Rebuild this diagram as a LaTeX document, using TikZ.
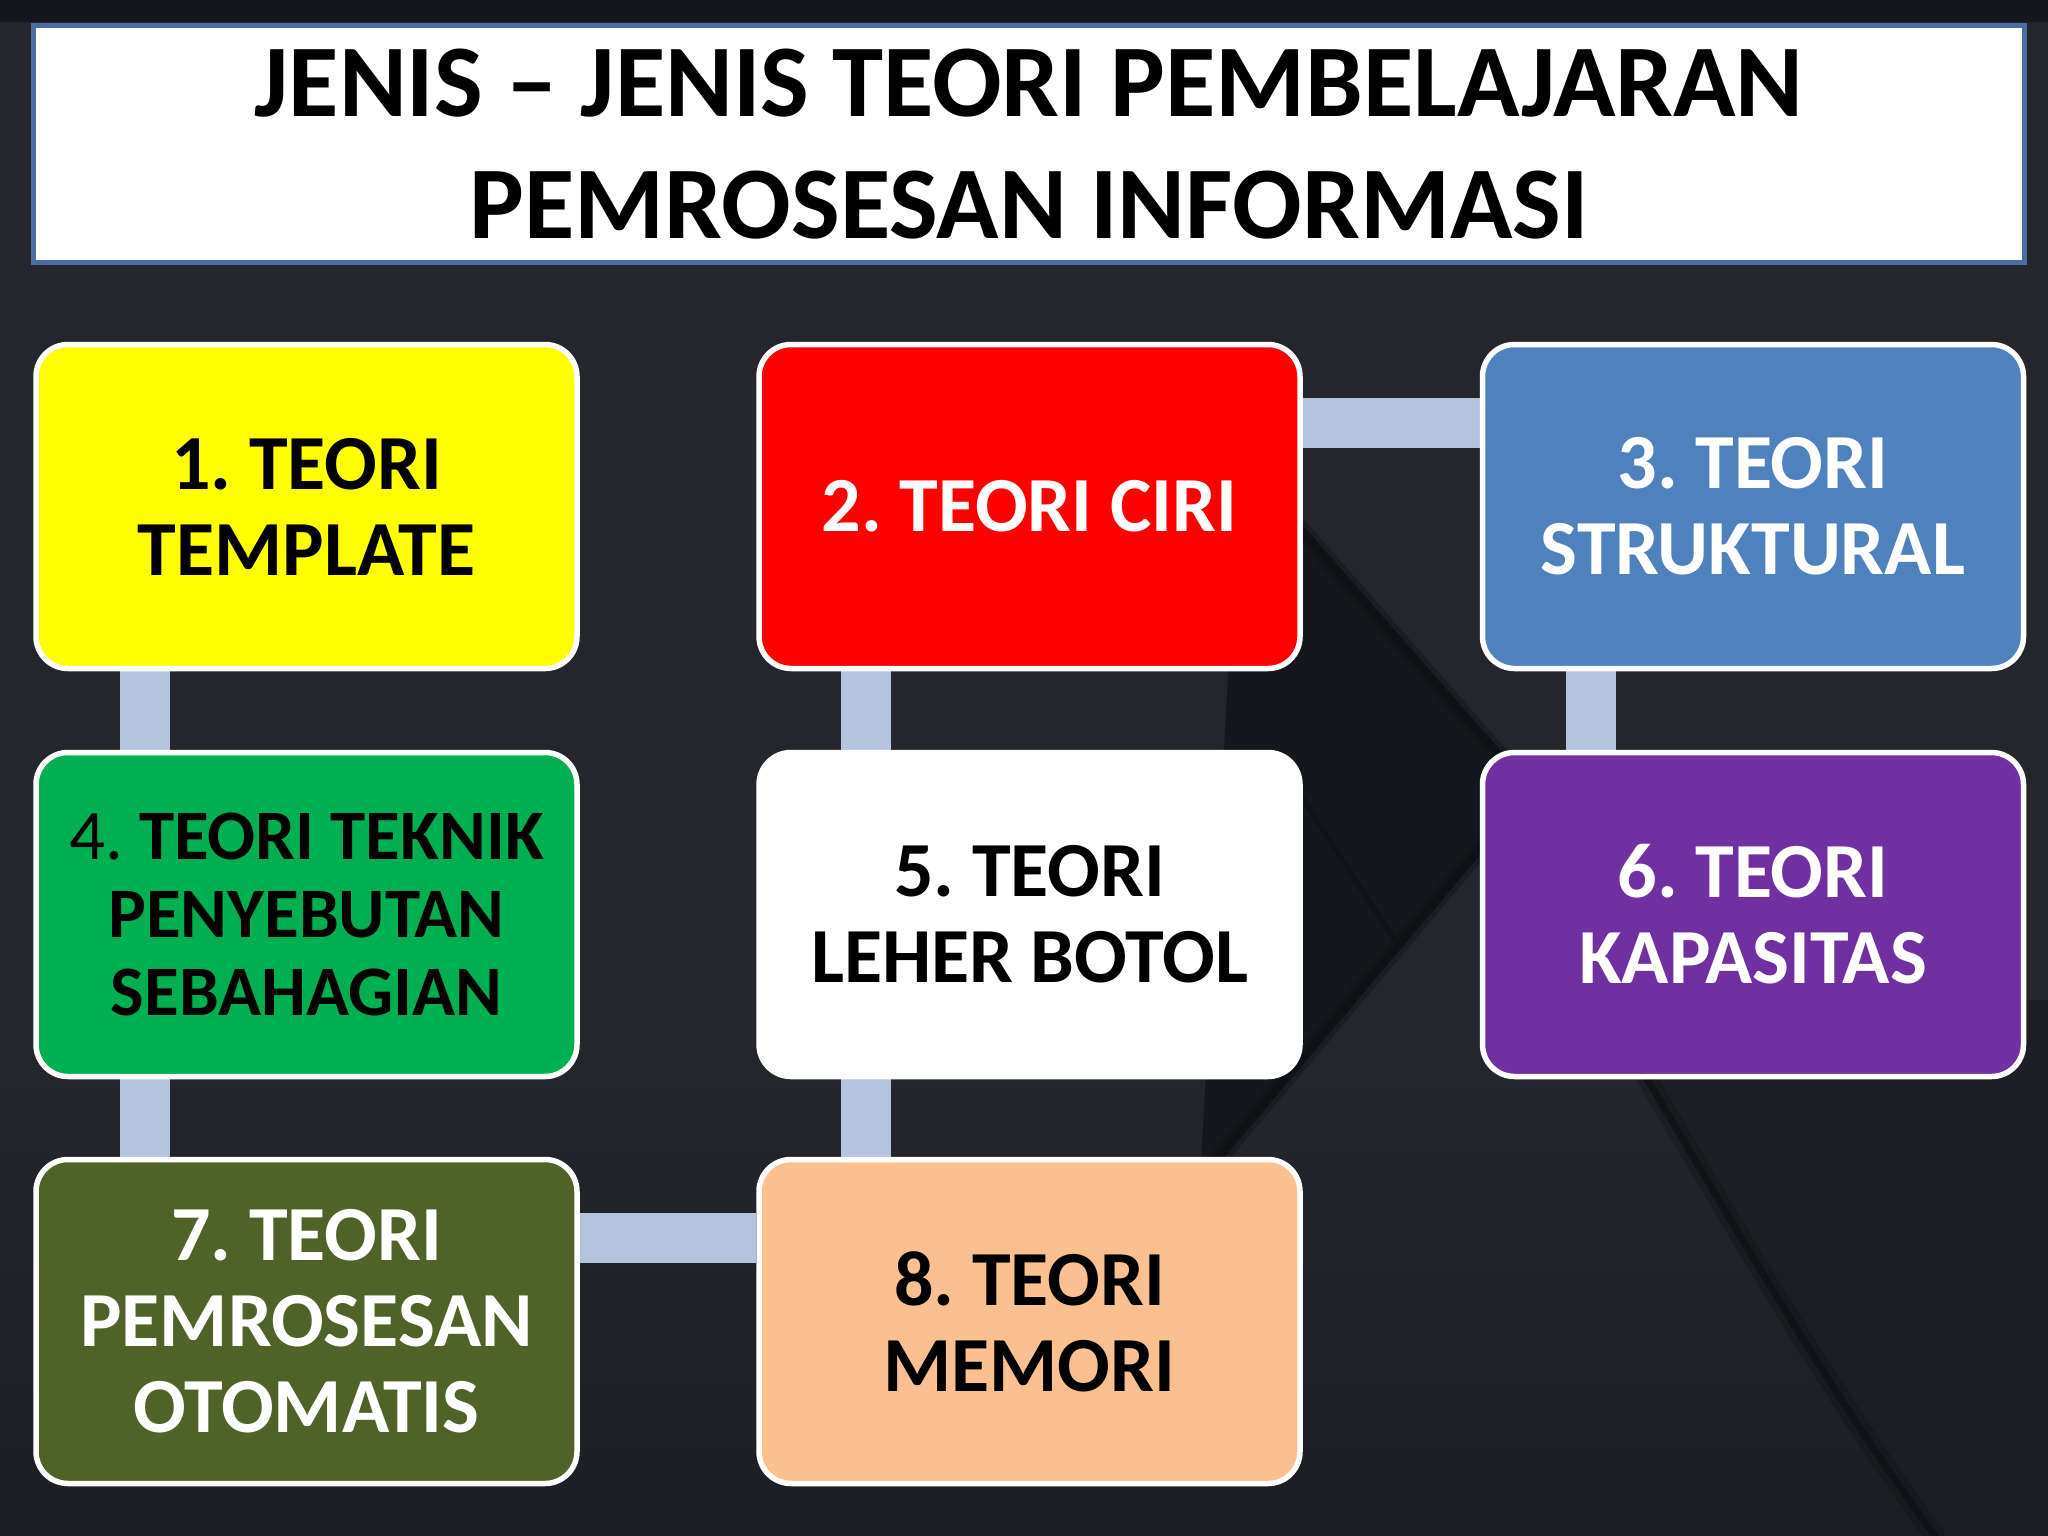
\documentclass[tikz,border=0pt]{standalone}
\usepackage{fontspec}
\setmainfont{Carlito}
\frenchspacing
\definecolor{bgbase}{RGB}{36,38,44}
\definecolor{bglow}{RGB}{28,30,35}
\definecolor{bgdark}{RGB}{22,23,28}
\definecolor{bgline}{RGB}{14,15,19}
\definecolor{titleb}{RGB}{74,108,158}
\definecolor{connc}{RGB}{180,195,222}
\definecolor{yel}{RGB}{255,255,0}
\definecolor{redb}{RGB}{255,0,0}
\definecolor{blub}{RGB}{79,129,189}
\definecolor{grnb}{RGB}{0,176,80}
\definecolor{purb}{RGB}{112,48,160}
\definecolor{olib}{RGB}{79,98,40}
\definecolor{peab}{RGB}{250,192,144}
\pgfdeclarelayer{bglayer}
\pgfdeclarelayer{connlayer}
\pgfsetlayers{bglayer,connlayer,main}
\begin{document}
\begin{tikzpicture}[x=1pt,y=-1pt,
  box/.style={draw=white, line width=5.5pt, rounded corners=32pt,
    minimum width=541pt, minimum height=324pt, align=center, inner sep=0pt,
    font=\fontsize{78}{86}\selectfont\bfseries},
  conn/.style={draw=connc, line width=50pt},
  titlebox/.style={draw=titleb, line width=5pt, fill=white,
    minimum width=1991pt, minimum height=237pt, inner sep=0pt, align=center,
    font=\fontsize{103}{122}\selectfont\bfseries},
  softline/.style={draw=bgline, line cap=round}]
\useasboundingbox (0,0) rectangle (2048,1536);
% background
\begin{pgfonlayer}{bglayer}
\fill[bgbase] (0,0) rectangle (2048,1536);
\shade[top color=bgbase, bottom color=bglow] (0,1060) rectangle (2048,1536);
\fill[bgdark] (0,0) rectangle (2048,22);
% dark wedge between the middle and right columns
\fill[bgdark] (1240,460) -- (1530,790) -- (1200,1180) -- cycle;
\draw[softline, line width=18pt, opacity=0.35] (1240,460) -- (1530,790) -- (1200,1180);
\draw[softline, line width=8pt, opacity=0.8] (1240,460) -- (1530,790) -- (1200,1180);
\draw[softline, line width=6pt, opacity=0.5] (1290,780) -- (1395,940);
% dark diagonal crease lower right
\fill[bglow, opacity=0.8] (1600,1000) .. controls (1720,1200) and (1820,1380) .. (1935,1536) -- (2048,1536) -- (2048,1000) -- cycle;
\draw[softline, line width=20pt, opacity=0.3] (1600,1000) .. controls (1720,1200) and (1820,1380) .. (1935,1536);
\draw[softline, line width=7pt, opacity=0.7] (1600,1000) .. controls (1720,1200) and (1820,1380) .. (1935,1536);
\end{pgfonlayer}
% title
\node[titlebox] (title) at (1029,144) {JENIS – JENIS TEORI PEMBELAJARAN\\PEMROSESAN INFORMASI};
% boxes
\node[box, fill=yel] (b1) at (306.5,506.5) {1. TEORI\\TEMPLATE};
\node[box, fill=redb, text=white] (b2) at (1029.5,506.5) {2. TEORI CIRI};
\node[box, fill=blub, text=white] (b3) at (1753,506.5) {3. TEORI\\STRUKTURAL};
\node[box, fill=grnb, font=\fontsize{71}{78}\selectfont\bfseries] (b4) at (306.5,914.5) {{\mdseries 4.} TEORI TEKNIK\\PENYEBUTAN\\SEBAHAGIAN};
\node[box, fill=white] (b5) at (1029.5,914.5) {5. TEORI\\LEHER BOTOL};
\node[box, fill=purb, text=white] (b6) at (1753,914.5) {6. TEORI\\KAPASITAS};
\node[box, fill=olib, text=white] (b7) at (306.5,1321.5) {7. TEORI\\PEMROSESAN\\OTOMATIS};
\node[box, fill=peab] (b8) at (1029.5,1321.5) {8. TEORI\\MEMORI};
% connectors
\begin{pgfonlayer}{connlayer}
\draw[conn] ([xshift=-162pt]b1.south) -- ([xshift=-162pt]b4.north);
\draw[conn] ([xshift=-162pt]b4.south) -- ([xshift=-162pt]b7.north);
\draw[conn] ([xshift=-163.5pt]b2.south) -- ([xshift=-163.5pt]b5.north);
\draw[conn] ([xshift=-163.5pt]b5.south) -- ([xshift=-163.5pt]b8.north);
\draw[conn] ([xshift=-162pt]b3.south) -- ([xshift=-162pt]b6.north);
\draw[conn] ([yshift=83.5pt]b2.east) -- ([yshift=83.5pt]b3.west);
\draw[conn] ([yshift=83.5pt]b7.east) -- ([yshift=83.5pt]b8.west);
\end{pgfonlayer}
\end{tikzpicture}
\end{document}
